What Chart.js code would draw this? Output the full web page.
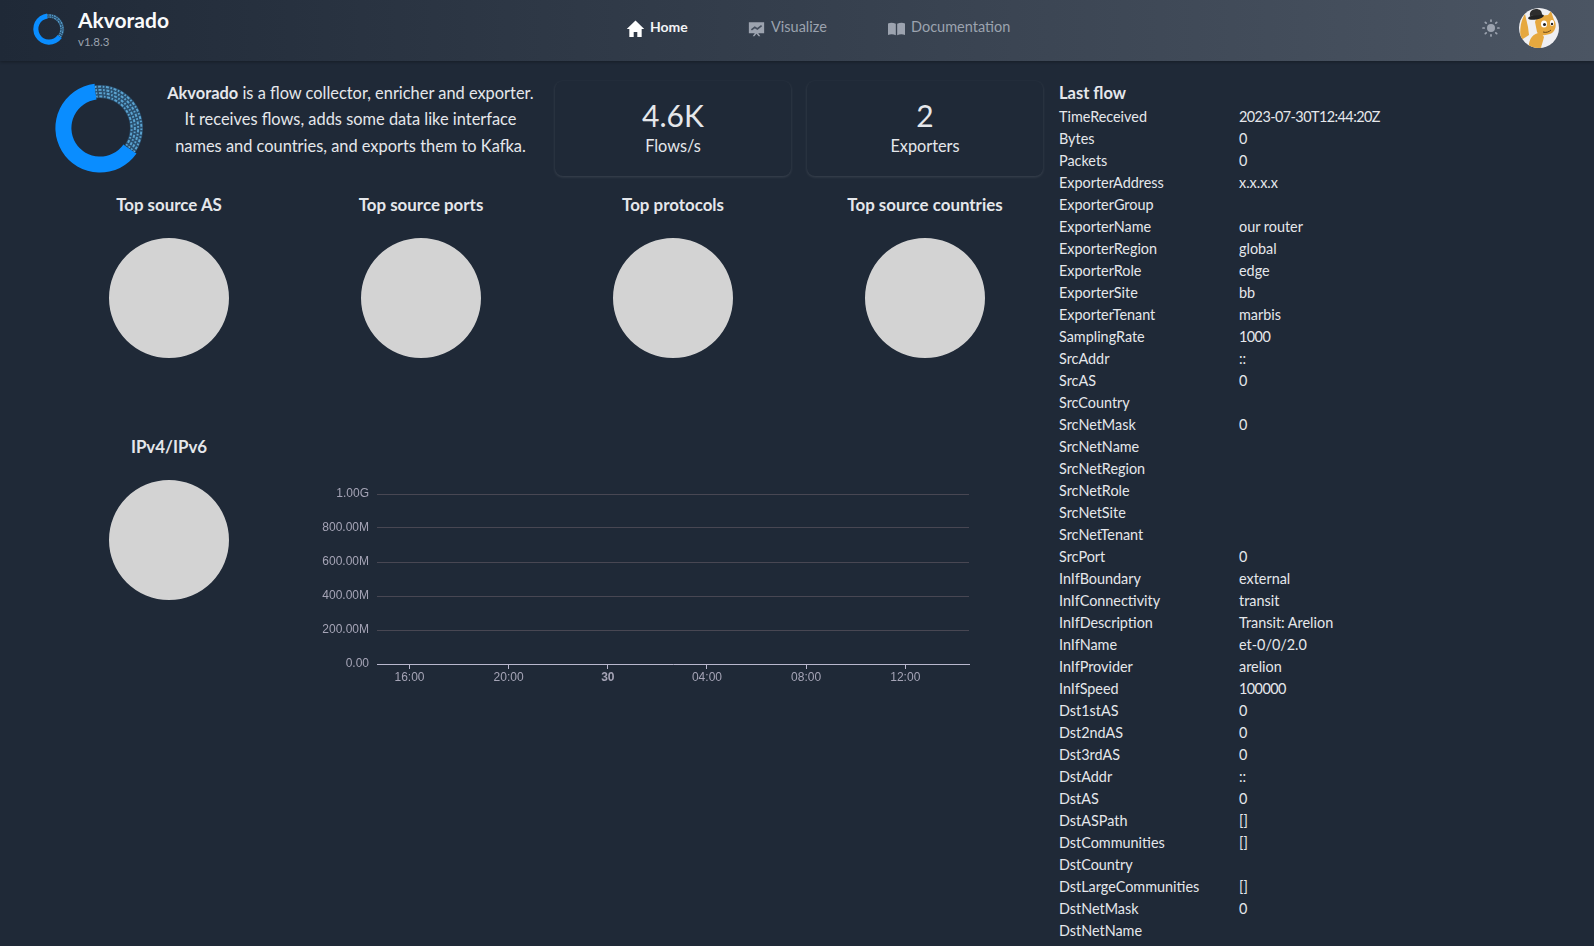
<!DOCTYPE html>
<html><head><meta charset="utf-8"><title>Akvorado</title>
<script src="https://cdn.jsdelivr.net/npm/chart.js@4"></script>
<style>
html,body{margin:0;padding:0;width:1594px;height:946px;overflow:hidden;background:#1f2937;font-family:"Lato","Noto Sans",sans-serif;color:#e5e7eb}
.a{position:absolute;white-space:nowrap;line-height:1}
.c{transform:translate(-50%,-50%)}
.m{transform:translateY(-50%)}
header{position:absolute;left:0;top:0;width:1594px;height:61px;background:linear-gradient(to right,#1f2937,#4b5563);box-shadow:0 1px 3px rgba(0,0,0,.3)}
.card{position:absolute;top:81px;width:236px;height:95px;border-radius:8px;box-shadow:0 1px 3px rgba(255,255,255,.13);box-sizing:border-box}
.t{font-weight:700;font-size:16.9px;color:#e5e7eb}
.lf{font-weight:700;font-size:16.5px;color:#e5e7eb}
canvas{position:absolute;display:block}
.row{position:absolute;font-size:14.4px;color:#e5e7eb;white-space:nowrap;line-height:1;transform:translateY(-50%)}
.num{letter-spacing:-.55px}
</style></head><body>
<header></header>
<svg id="logoSmall" class="a" style="left:31px;top:11px" width="36" height="36" viewBox="-18 -18 36 36"></svg>
<div class="a m" style="left:78px;top:19px;font-size:21px;font-weight:700;color:#f9fafb">Akvorado</div>
<div class="a m" style="left:78px;top:42px;font-size:11.5px;color:#9ca3af">v1.8.3</div>

<svg class="a" style="left:626px;top:19px" width="19" height="19" viewBox="0 0 20 20" fill="#fff"><path d="M10 1.5 0.8 10.6h2.7V19h4.6v-5.2h3.8V19h4.6v-8.4h2.7z"/></svg>
<div class="a m" style="left:650px;top:27px;font-size:14px;font-weight:700;color:#f3f4f6">Home</div>
<svg class="a" style="left:748px;top:20px" width="17" height="18" viewBox="0 0 20 20" fill="#9ca3af"><path d="M1 2h18v13h-7l2.5 3.5h-2L10 15.5 7.500 18.500h-2L8 15H1z"/><path d="M4 11l4-3 3 2 5-4" stroke="#434d5c" stroke-width="2" fill="none"/></svg>
<div class="a m" style="left:771px;top:27px;font-size:14.5px;color:#9ca3af">Visualize</div>
<svg class="a" style="left:888px;top:20px" width="17" height="17" viewBox="0 0 20 20" fill="#9ca3af"><path d="M0 4c3-1 6-1 9.200 0.500V18c-3-1.500-6-1.500-9.200-.5zM20 4c-3-1-6-1-9.200 0.500V18c3-1.500 6-1.500 9.200-.5z"/></svg>
<div class="a m" style="left:911px;top:27px;font-size:14.5px;color:#9ca3af">Documentation</div>

<svg class="a" style="left:1482px;top:19px" width="18" height="18" viewBox="-9 -9 18 18" fill="#9ca3af" stroke="#9ca3af"><circle r="4" stroke="none"/><g stroke-width="1.700" stroke-linecap="round"><path d="M0-8V-6.800M0 8V6.800M-8 0H-6.800M8 0H6.800M-5.700-5.700l.9.9M5.700 5.700l-.9-.9M-5.700 5.700l.9-.9M5.700-5.700l-.9.9"/></g></svg>
<svg class="a" style="left:1519px;top:8px" width="40" height="40" viewBox="0 0 40 40">
<defs><clipPath id="av"><circle cx="20" cy="20" r="20"/></clipPath></defs>
<g clip-path="url(#av)"><rect width="40" height="40" fill="#efeff2"/>
<path d="M2 32C0 22 2 12 6 6l3 13 1 8z" fill="#e6a83f"/>
<path d="M10 40c-1-6 2-13 9-15l4 1 2 3c-1 5-3 9-3 11z" fill="#e6a83f"/>
<path d="M16 14c1-4 6-7 13-7l3-4 3 9c3 4 2 10-2 13-6 3-13 3-15-1z" fill="#e6a83f"/>
<ellipse cx="25" cy="16" rx="3" ry="3.500" fill="#fff"/><ellipse cx="33" cy="15" rx="2" ry="3" fill="#fff"/><circle cx="25.500" cy="16.500" r="1.500" fill="#222"/><circle cx="33" cy="16" r="1.200" fill="#222"/>
<path d="M24 24c3 1 6 0 8-2" stroke="#6b4a1b" fill="none"/>
<ellipse cx="17" cy="9" rx="8" ry="2.500" fill="#222" transform="rotate(-10 17 9)"/><path d="M11 8c-1-4 2-7 6-7s6 2 6 6z" fill="#2d2d2d"/></g></svg>

<svg id="logoBig" class="a" style="left:53px;top:81px" width="94" height="94" viewBox="-47 -47 94 94"></svg>
<div class="a" style="left:350.500px;top:80px;transform:translateX(-50%);font-size:16.4px;line-height:26.300px;text-align:center;color:#e5e7eb"><b>Akvorado</b> is a flow collector, enricher and exporter.<br>It receives flows, adds some data like interface<br>names and countries, and exports them to Kafka.</div>

<div class="card" style="left:555px"></div><div class="card" style="left:807px"></div>
<div class="a c" style="left:673px;top:115px;font-size:30px;color:#e5e7eb">4.6K</div>
<div class="a c" style="left:673px;top:146px;font-size:16.300px;color:#e5e7eb">Flows/s</div>
<div class="a c" style="left:925px;top:115px;font-size:30px;color:#e5e7eb">2</div>
<div class="a c" style="left:925px;top:146px;font-size:16.300px;color:#e5e7eb">Exporters</div>

<div id="pies"></div>
<canvas id="line" style="left:300px;top:480px" width="690" height="220"></canvas>
<div id="table"></div>

<script>
const pieTitles = ["Top source AS","Top source ports","Top protocols","Top source countries","IPv4/IPv6"];
const pieValues = [[1],[1],[1],[1],[1]];
const pieCenters = [[169,298],[421,298],[673,298],[925,298],[169,540]];
const titleY = [205,205,205,205,447];
const xTickValues = [16,20,24,28,32,36];
const xTickLabels = ["16:00","20:00","30","04:00","08:00","12:00"];
const yTickValues = [0,2e8,4e8,6e8,8e8,1e9];
const yTickLabels = ["0.00","200.00M","400.00M","600.00M","800.00M","1.00G"];
const xRange = [14.69,38.57];
const flowHours = [14.69,20,26,32,38.57];
const flowValues = [0,0,0,0,0];
const flowFields = [["TimeReceived","2023-07-30T12:44:20Z"],["Bytes","0"],["Packets","0"],["ExporterAddress","x.x.x.x"],["ExporterGroup",""],["ExporterName","our router"],["ExporterRegion","global"],["ExporterRole","edge"],["ExporterSite","bb"],["ExporterTenant","marbis"],["SamplingRate","1000"],["SrcAddr","::"],["SrcAS","0"],["SrcCountry",""],["SrcNetMask","0"],["SrcNetName",""],["SrcNetRegion",""],["SrcNetRole",""],["SrcNetSite",""],["SrcNetTenant",""],["SrcPort","0"],["InIfBoundary","external"],["InIfConnectivity","transit"],["InIfDescription","Transit: Arelion"],["InIfName","et-0/0/2.0"],["InIfProvider","arelion"],["InIfSpeed","100000"],["Dst1stAS","0"],["Dst2ndAS","0"],["Dst3rdAS","0"],["DstAddr","::"],["DstAS","0"],["DstASPath","[]"],["DstCommunities","[]"],["DstCountry",""],["DstLargeCommunities","[]"],["DstNetMask","0"],["DstNetName",""]];

const tbl=document.getElementById('table');
function addText(cls,x,y,txt){const d=document.createElement('div');d.className=cls;d.style.left=x+'px';d.style.top=y+'px';d.textContent=txt;tbl.appendChild(d);}
addText('a m lf',1059,92.5,'Last flow');
flowFields.forEach((r,i)=>{const y=117+i*22;addText('row',1059,y,r[0]);if(r[1])addText(/^\d/.test(r[1])?'row num':'row',1239,y,r[1]);});

Chart.defaults.animation=false;
const piesEl=document.getElementById('pies');
pieTitles.forEach((t,i)=>{
  const [cx,cy]=pieCenters[i];
  const d=document.createElement('div');d.className='a c t';d.style.left=cx+'px';d.style.top=titleY[i]+'px';d.textContent=t;piesEl.appendChild(d);
  const c=document.createElement('canvas');c.width=124;c.height=124;c.style.left=(cx-62)+'px';c.style.top=(cy-62)+'px';c.style.width='124px';c.style.height='124px';piesEl.appendChild(c);
  new Chart(c,{type:'pie',data:{labels:[t],datasets:[{data:pieValues[i],backgroundColor:'#d3d3d3',borderWidth:0}]},
    options:{responsive:false,layout:{padding:2},plugins:{legend:{display:false},tooltip:{enabled:false}}}});
});

const tickColor='#a5a4b6';
new Chart(document.getElementById('line'),{type:'line',
  data:{datasets:[{data:flowHours.map((h,i)=>({x:h,y:flowValues[i]})),borderColor:'#b9b8ce',borderWidth:0,pointRadius:0}]},
  options:{responsive:false,
    layout:{padding:{top:14,right:21,left:0,bottom:0}},
    plugins:{legend:{display:false},tooltip:{enabled:false}},
    scales:{
      x:{type:'linear',min:xRange[0],max:xRange[1],
        afterBuildTicks:s=>{s.ticks=xTickValues.map(v=>({value:v}));},
        afterFit:s=>{s.height=36;},
        grid:{drawOnChartArea:false,drawTicks:true,tickLength:5,tickColor:'#b9b8ce',tickWidth:1},
        border:{display:true,color:'#b9b8ce',width:1},
        ticks:{autoSkip:false,maxRotation:0,padding:1,color:tickColor,
          font:c=>({family:'"Liberation Sans"',size:12,weight:xTickLabels[xTickValues.indexOf(c.tick&&c.tick.value)]==='30'?'bold':'normal'}),
          callback:v=>xTickLabels[xTickValues.indexOf(v)]}},
      y:{min:0,max:1e9,
        afterBuildTicks:s=>{s.ticks=yTickValues.map(v=>({value:v}));},
        afterFit:s=>{s.width=77;s.paddingTop=0;},
        grid:{color:'#484753',drawTicks:false,lineWidth:1},
        border:{display:false},
        ticks:{padding:8,color:tickColor,font:{family:'"Liberation Sans"',size:12},
          callback:v=>yTickLabels[yTickValues.indexOf(v)]}}
    }}});

function pt(r,a){a=(a-90)*Math.PI/180;return [r*Math.cos(a),r*Math.sin(a)];}
function ring(ro,ri,a0,a1,fill){const [x0,y0]=pt(ro,a0),[x1,y1]=pt(ro,a1),[x2,y2]=pt(ri,a1),[x3,y3]=pt(ri,a0);const l=(a1-a0)>180?1:0;
  return `<path d="M${x0} ${y0}A${ro} ${ro} 0 ${l} 1 ${x1} ${y1}L${x2} ${y2}A${ri} ${ri} 0 ${l} 0 ${x3} ${y3}Z" fill="${fill}"/>`;}
function logo(id,ro,ri,rt0,rt1,n){let s=ring(ro,ri,125,353,'#0a8dff');
  s+=ring(rt1,rt0,-7,125,'#2a4f6e');
  const step=(rt1-rt0)/n;
  for(let k=0;k<n;k++){const r=rt0+step*(k+.5);const [a,b]=pt(r,-7),[e,f]=pt(r,125);
    s+=`<path d="M${a} ${b}A${r} ${r} 0 0 1 ${e} ${f}" fill="none" stroke="#5ba3d0" stroke-width="${step*.6}" stroke-dasharray="${step*.5} ${step*.5} ${step*.9} ${step*.5}"/>`;}
  document.getElementById(id).innerHTML=s;}
logo('logoBig',44.6,28.6,30,43,4);
logo('logoSmall',15.7,10.6,11,15,2);
</script>
</body></html>
